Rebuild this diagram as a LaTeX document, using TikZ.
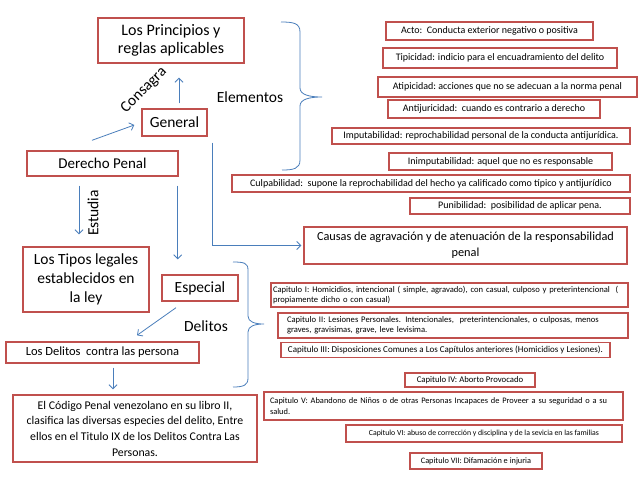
\documentclass[tikz,border=0pt]{standalone}
\usepackage{fontspec}
\setmainfont{Carlito}
\usetikzlibrary{arrows.meta}
\definecolor{rojo}{HTML}{C0504D}
\definecolor{azul}{HTML}{4A7EBB}
\newcommand{\fs}[1]{\fontsize{#1}{1.2\dimexpr#1pt\relax}\selectfont}
\tikzset{
  caja/.style={draw=rojo, line width=1.4pt, inner sep=2pt, align=center},
  flecha/.style={azul, line width=0.8pt, -{Straight Barb[length=4pt,width=8pt]}},
  llave/.style={azul, line width=0.8pt},
}

\begin{document}
\begin{tikzpicture}[x=1pt,y=-1pt]
    \useasboundingbox (0,0) rectangle (638,479);
    % izquierda
    \node[caja, minimum width=146pt, minimum height=45pt, font=\fontsize{16}{17.7}\selectfont] (principios) at (171,40.5) {Los Principios y\\reglas aplicables};
    \node[caja, minimum width=65pt, minimum height=27pt, font=\fs{15.5}] (general) at (174.5,122.5) {General};
    \node[caja, minimum width=151pt, minimum height=25pt, font=\fs{15}] (derecho) at (102.5,163.5) {Derecho Penal};
    \node[caja, minimum width=126pt, minimum height=65pt, font=\fontsize{15.5}{19}\selectfont] (tipos) at (86,279.5) {Los Tipos legales\\establecidos en\\la ley};
    \node[caja, minimum width=76pt, minimum height=26pt, font=\fs{15.5}] (especial) at (200,288) {Especial};
    \node[caja, minimum width=193pt, minimum height=21pt, font=\fs{12.5}] (personas) at (102.5,352.5) {Los Delitos\ \ contra las persona};
    \node[caja, minimum width=244pt, minimum height=67pt, font=\fontsize{11.8}{15.7}\selectfont] (codigo) at (135,428.5) {El Código Penal venezolano en su libro II,\\clasifica las diversas especies del delito, Entre\\ellos en el Titulo IX de los Delitos Contra Las\\Personas.};

    \node[rotate=45, font=\fs{15.5}] (consagra) at (144,90) {Consagra};
    \node[font=\fs{15.5}] (elementos) at (250,97) {Elementos};
    \node[rotate=90, font=\fs{15.5}] (estudia) at (93,213) {Estudia};
    \node[font=\fs{15.5}] (delitos) at (206,326) {Delitos};

    % elementos
    \node[caja, minimum width=207pt, minimum height=18pt, font=\fs{10}] (acto) at (489.5,31) {Acto:\ \ Conducta exterior negativo o positiva};
    \node[caja, minimum width=234pt, minimum height=20pt, font=\fs{10}] (tipicidad) at (500,58) {Tipicidad: indicio para el encuadramiento del delito};
    \node[caja, minimum width=259pt, minimum height=20pt, font=\fs{10}] (atipicidad) at (507.5,87) {Atipicidad:\ acciones que no se adecuan a la norma penal};
    \node[caja, minimum width=212pt, minimum height=18pt, font=\fs{10}] (antijuricidad) at (494,109) {Antijuricidad:\ \ cuando es contrario a derecho};
    \node[caja, minimum width=298pt, minimum height=16pt, font=\fs{10}] (imputabilidad) at (481,136) {Imputabilidad: reprochabilidad personal de la conducta antijurídica.};
    \node[caja, minimum width=223pt, minimum height=17pt, font=\fs{10}] (inimputabilidad) at (500.5,161.5) {Inimputabilidad: aquel que no es responsable};
    \node[caja, minimum width=398pt, minimum height=17pt, font=\fs{10}] (culpabilidad) at (431,183.5) {Culpabilidad:\ \ supone la reprochabilidad del hecho ya calificado como típico y antijurídico};
    \node[caja, minimum width=220pt, minimum height=16pt, font=\fs{10}] (punibilidad) at (520,206) {Punibilidad:\ \ posibilidad de aplicar pena.};
    \node[caja, minimum width=323pt, minimum height=37pt, font=\fontsize{12.3}{16}\selectfont] (causas) at (465.5,245.5) {Causas de agravación y de atenuación de la responsabilidad\\penal};

    % capitulos
    \node[caja, inner xsep=2pt, text width=353pt, align=left, minimum height=24pt, font=\fontsize{8.6}{10.5}\selectfont] (cap1) at (449.5,295) {Capitulo I: Homicidios, intencional ( simple, agravado), con casual, culposo y preterintencional\ \ (\\propiamente dicho o con casual)};
    \node[caja, inner xsep=9pt, text width=332pt, align=left, minimum height=25pt, font=\fontsize{8.6}{10.5}\selectfont] (cap2) at (453,325.5) {Capitulo II: Lesiones Personales. Intencionales,\ \ preterintencionales, o culposas, menos\\graves, gravisimas, grave, leve levisima.};
    \node[caja, minimum width=329pt, minimum height=15pt, font=\fs{9}] (cap3) at (445.5,350) {Capitulo III: Disposiciones Comunes a Los Capítulos anteriores (Homicidios y Lesiones).};
    \node[caja, minimum width=130pt, minimum height=14pt, font=\fs{8.7}] (cap4) at (470,380) {Capitulo IV: Aborto Provocado};
    \node[caja, inner xsep=6pt, text width=347pt, align=left, minimum height=28pt, font=\fontsize{8.4}{10.5}\selectfont] (cap5) at (443.5,406) {Capitulo V: Abandono de Niños o de otras Personas Incapaces de Proveer a su seguridad o a su\\salud.};
    \node[caja, minimum width=276pt, minimum height=17pt, font=\fs{7.8}] (cap6) at (484,433.5) {Capitulo VI: abuso de corrección y disciplina y de la sevicia en las familias};
    \node[caja, minimum width=132pt, minimum height=16pt, font=\fs{8.3}] (cap7) at (476,461) {Capitulo VII: Difamación e injuria};

    % flechas
    \draw[flecha, shorten <=5pt, shorten >=14pt] ([xshift=4.5pt]general.north) -- ([xshift=4.5pt]general.north |- principios.south);
    \draw[flecha] ([xshift=-10.5pt,yshift=10pt]derecho.north) -- ([xshift=-7pt,yshift=-2.5pt]general.west);
    \draw[flecha, shorten <=9pt, shorten >=12pt] ([xshift=-23.5pt]derecho.south) -- ([xshift=-23.5pt]derecho.south |- tipos.north);
    \draw[flecha, shorten <=9pt, shorten >=15pt] ([xshift=-1pt]derecho.south east) -- ([xshift=-1pt]derecho.south east |- especial.north);
    \draw[flecha, shorten >=2pt] ([xshift=5pt,yshift=-6pt]general.south east) |- (causas.west);
    \draw[flecha] ([xshift=-24pt,yshift=-6pt]especial.south) -- ([xshift=34.5pt,yshift=6pt]personas.north);
    \draw[flecha, shorten <=4pt, shorten >=5pt] ([xshift=10.5pt]personas.south) -- ([xshift=10.5pt]personas.south |- codigo.north);

    % llaves
    \draw[llave] (281,22) .. controls (293,22) and (300,23) .. (300,32) -- (300,88) .. controls (300,95) and (310,97) .. (322,97) .. controls (310,97) and (300,99) .. (300,106) -- (300,160) .. controls (300,169) and (293,170) .. (282,170);
    \draw[llave] (233,262) .. controls (244,262) and (248,263) .. (248,270) -- (248,316) .. controls (248,322) and (255,324) .. (264,324) .. controls (255,324) and (248,326) .. (248,332) -- (248,378) .. controls (248,385) and (244,387) .. (233,387);
\end{tikzpicture}
\end{document}
